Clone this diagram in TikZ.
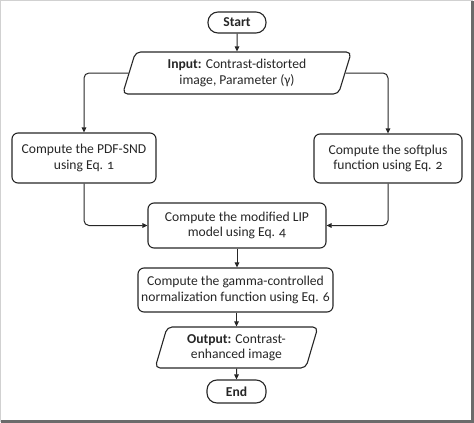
\documentclass[tikz,border=0pt]{standalone}
\usepackage{fontspec}
\setmainfont[Numbers=OldStyle]{Carlito}
\usetikzlibrary{shapes.geometric,arrows.meta}
\definecolor{ink}{HTML}{262626}
\tikzset{
  base/.style={draw=ink, line width=1.1pt, align=center, font=\fontsize{13.6}{15.5}\selectfont, text=ink, inner sep=1pt},
  procbox/.style={base, rectangle, rounded corners=6pt},
  termbox/.style={base, rectangle, rounded corners=10pt},
  iobox/.style={base, trapezium, trapezium left angle=73, trapezium right angle=107, trapezium stretches=true, rounded corners=5pt},
  conn/.style={draw=ink, line width=1pt, rounded corners=5pt, -{Triangle[length=5pt,width=4.5pt]}}
}
\begin{document}
\begin{tikzpicture}[x=1pt,y=-1pt]
\useasboundingbox (0,0) rectangle (474,423);
% frame
\draw[color=black!18, line width=1.2pt] (0.6,422) -- (0.6,0.6) -- (473,0.6);
\draw[color=black!58, line width=2.5pt] (1,421.7) -- (472.7,421.7) -- (472.7,1);

\node[termbox, minimum width=58pt, minimum height=21pt] (start) at (237,22.5) {\textbf{Start}};
\node[iobox, minimum width=229pt, minimum height=42pt] (in) at (237,73) {\textbf{Input:} Contrast-distorted\\image, Parameter (γ)};
\node[procbox, minimum width=144pt, minimum height=50pt] (pdf) at (84,158) {Compute the PDF-SND\\using Eq. 1};
\node[procbox, minimum width=148pt, minimum height=49pt] (soft) at (388,158.5) {Compute the softplus\\function using Eq. 2};
\node[procbox, minimum width=178pt, minimum height=45pt] (lip) at (237,225.5) {Compute the modified LIP\\model using Eq. 4};
\node[procbox, minimum width=195pt, minimum height=44pt] (gam) at (235.5,290) {Compute the gamma-controlled\\normalization function using Eq. 6};
\node[iobox, minimum width=163pt, minimum height=41pt] (out) at (236.5,347.5) {\textbf{Output:} Contrast-\\enhanced image};
\node[termbox, minimum width=59pt, minimum height=23pt] (end) at (236.5,391.5) {\textbf{End}};

\draw[conn] (start) -- (in);
\draw[conn] (in.west) -| (pdf.north);
\draw[conn] (in.east) -| (soft.north);
\draw[conn] (pdf.south) |- (lip.west);
\draw[conn] (soft.south) |- (lip.east);
\draw[conn] (lip.south) -- (lip.south |- gam.north);
\draw[conn] (gam.south -| out.north) -- (out.north);
\draw[conn] (out.south) -- (end.north);
\end{tikzpicture}
\end{document}
